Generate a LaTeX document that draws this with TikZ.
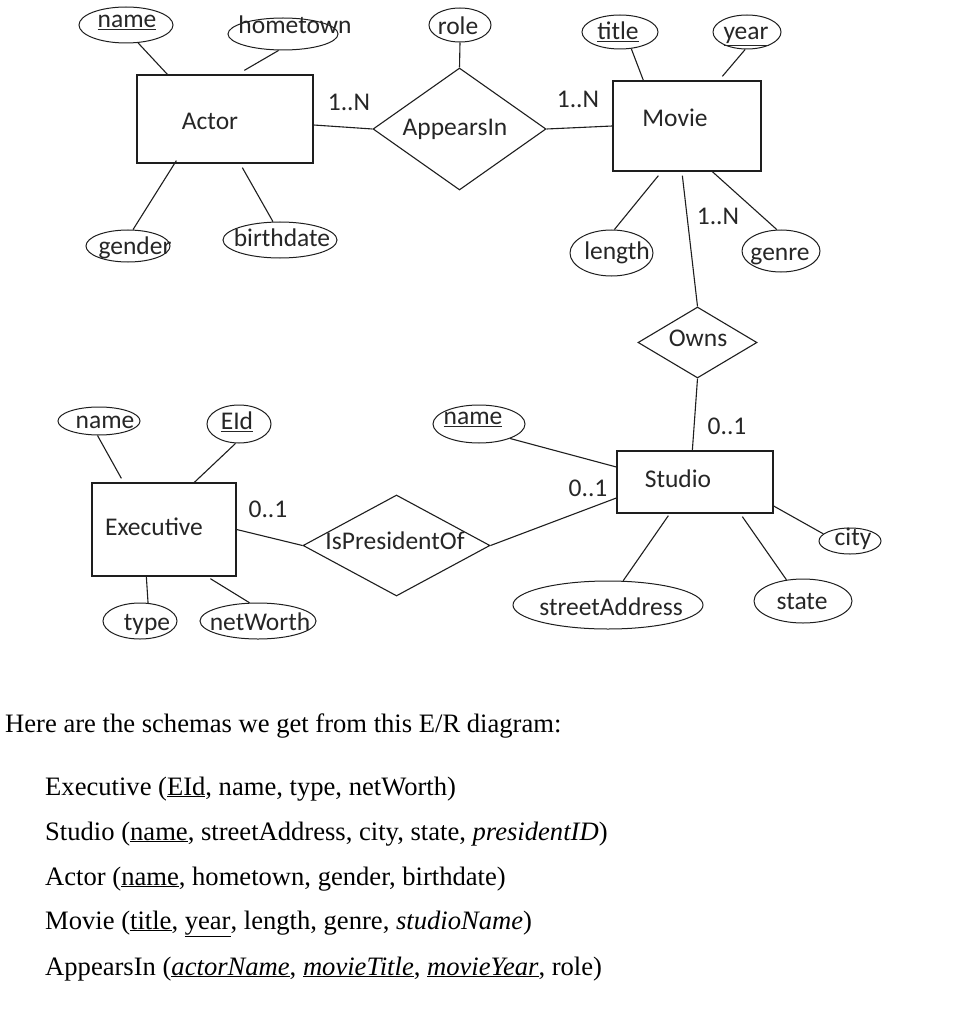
\documentclass[tikz,border=0pt]{standalone}
\usepackage{fontspec}
\setmainfont{Liberation Serif}
\newfontfamily\diagfont{Carlito}
\usetikzlibrary{shapes.geometric}
\definecolor{txtgray}{HTML}{262626}
\definecolor{linegray}{HTML}{1E1E1E}
\begin{document}
\begin{tikzpicture}[x=1pt,y=-1pt,
  entity/.style={draw=linegray, line width=1.3pt, rectangle, inner sep=0pt},
  rel/.style={draw=linegray, line width=1.1pt, diamond, inner sep=0pt},
  attr/.style={draw=linegray, line width=1pt, ellipse, inner sep=0pt},
  lbl/.style={font=\diagfont\fontsize{25.5}{29}\selectfont, text=txtgray, inner sep=0pt, text height=0.68em, text depth=0.2em, yshift=-5pt},
  conn/.style={draw=linegray, line width=1.1pt},
  schema/.style={font=\fontsize{26.6}{30}\selectfont, anchor=base west, inner sep=0pt}]
\useasboundingbox[fill=white] (0,0) rectangle (969,1024);

% ---------- entities ----------
\node[entity, minimum width=176pt, minimum height=88pt] (actor) at (225,119) {};
\node[lbl] (actorT) at (210,122) {Actor};
\node[entity, minimum width=148pt, minimum height=90pt] (movie) at (687,126) {};
\node[lbl] (movieT) at (675,119) {Movie};
\node[entity, minimum width=156pt, minimum height=62pt] (studio) at (695,482) {};
\node[lbl] (studioT) at (678,480) {Studio};
\node[entity, minimum width=144pt, minimum height=93pt] (exec) at (164,529.5) {};
\node[lbl] (execT) at (154,528) {Executive};

% ---------- relationships ----------
\node[rel, minimum width=173pt, minimum height=122pt] (appears) at (459.5,129) {};
\node[lbl] (appearsT) at (455,128) {AppearsIn};
\node[rel, minimum width=119pt, minimum height=71pt] (owns) at (697.5,342.5) {};
\node[lbl] (ownsT) at (698,339) {Owns};
\node[rel, minimum width=187pt, minimum height=101pt] (ispres) at (396.5,545.5) {};
\node[lbl] (ispresT) at (395,542) {IsPresidentOf};

% ---------- attributes ----------
% Actor
\node[attr, minimum width=94pt, minimum height=36pt] (aname) at (126,25) {};
\node[lbl] (anameT) at (127,20) {\underline{name}};
\node[attr, minimum width=110pt, minimum height=32pt] (ahome) at (283,34) {};
\node[lbl] (ahomeT) at (295,26) {hometown};
\node[attr, minimum width=84pt, minimum height=32pt] (agender) at (128,246) {};
\node[lbl] (agenderT) at (135,247) {gender};
\node[attr, minimum width=114pt, minimum height=36pt] (abirth) at (280,240) {};
\node[lbl] (abirthT) at (282,239) {birthdate};
% AppearsIn
\node[attr, minimum width=62pt, minimum height=34pt] (role) at (460,25) {};
\node[lbl] (roleT) at (458,27) {role};
% Movie
\node[attr, minimum width=76pt, minimum height=34pt] (mtitle) at (620,32) {};
\node[lbl] (mtitleT) at (618,32) {\underline{title}};
\node[attr, minimum width=68pt, minimum height=34pt] (myear) at (747,32) {};
\node[lbl] (myearT) at (746,32) {\underline{year}};
\node[attr, minimum width=83pt, minimum height=46pt] (mlength) at (611.5,253) {};
\node[lbl] (mlengthT) at (617,252) {length};
\node[attr, minimum width=78pt, minimum height=42pt] (mgenre) at (781,251) {};
\node[lbl] (mgenreT) at (780,253) {genre};
% Studio
\node[attr, minimum width=92pt, minimum height=38pt] (sname) at (479,424) {};
\node[lbl] (snameT) at (473,417) {\underline{name}};
\node[attr, minimum width=190pt, minimum height=48pt] (saddr) at (608,605) {};
\node[lbl] (saddrT) at (611,608) {streetAddress};
\node[attr, minimum width=98pt, minimum height=44pt] (sstate) at (803,601) {};
\node[lbl] (sstateT) at (802,602) {state};
\node[attr, minimum width=62pt, minimum height=26pt] (scity) at (850,541) {};
\node[lbl] (scityT) at (853,538) {city};
% Executive
\node[attr, minimum width=82pt, minimum height=28pt] (ename) at (99,421) {};
\node[lbl] (enameT) at (105,421) {name};
\node[attr, minimum width=64pt, minimum height=38pt] (eid) at (239,424) {};
\node[lbl] (eidT) at (237,422) {\underline{EId}};
\node[attr, minimum width=74pt, minimum height=36pt] (etype) at (140,621) {};
\node[lbl] (etypeT) at (147,623) {type};
\node[attr, minimum width=116pt, minimum height=36pt] (eworth) at (258,621) {};
\node[lbl] (eworthT) at (260,623) {netWorth};

% ---------- connectors ----------
\draw[conn] (aname.-56) -- ([xshift=31pt]actor.north west);
\draw[conn] (ahome.-105) -- ([xshift=108pt,yshift=4pt]actor.north west);
\draw[conn] ([xshift=40pt,yshift=3pt]actor.south west) -- (agender.73);
\draw[conn] ([xshift=106pt,yshift=-4pt]actor.south west) -- (abirth.111);
\draw[conn] ([yshift=-6pt]actor.east) -- (appears.west);
\draw[conn] (appears.east) -- (movie.west);
\draw[conn] (role.south) -- (appears.north);
\draw[conn] (mtitle.-56) -- ([xshift=31pt]movie.north west);
\draw[conn] (myear.-96) -- ([xshift=110pt,yshift=4pt]movie.north west);
\draw[conn] ([xshift=46pt,yshift=-4pt]movie.south west) -- (mlength.83);
\draw[conn] ([xshift=100pt]movie.south west) -- (mgenre.101);
\draw[conn] ([xshift=70pt,yshift=-4pt]movie.south west) -- (owns.north);
\draw[conn] (owns.south) -- ([xshift=76pt]studio.north west);
\draw[conn] (sname.-25) -- ([yshift=15pt]studio.west);
\draw[conn] (ispres.east) -- ([yshift=-16pt]studio.west);
\draw[conn] ([xshift=52pt,yshift=-2pt]studio.south west) -- (saddr.58);
\draw[conn] ([xshift=126pt,yshift=-3pt]studio.south west) -- (sstate.128);
\draw[conn] ([yshift=-24pt]studio.east) -- (scity.165);
\draw[conn] (ename.-96) -- ([xshift=30pt,yshift=4pt]exec.north west);
\draw[conn] (eid.-100) -- ([xshift=103pt]exec.north west);
\draw[conn] ([xshift=55pt]exec.south west) -- (etype.66);
\draw[conn] ([xshift=119pt,yshift=-2pt]exec.south west) -- (eworth.115);
\draw[conn] (exec.east) -- (ispres.west);

% ---------- cardinalities ----------
\node[lbl] (c1) at (349,103) {1..N};
\node[lbl] (c2) at (578,100) {1..N};
\node[lbl] (c3) at (718,217) {1..N};
\node[lbl] (c4) at (727,427) {0..1};
\node[lbl] (c5) at (588,489) {0..1};
\node[lbl] (c6) at (268,510) {0..1};

% ---------- schema text ----------
\node[schema] (h0) at (5,732) {Here are the schemas we get from this E/R diagram:};
\node[schema] (s1) at (45,795) {Executive (\underline{EId}, name, type, netWorth)};
\node[schema] (s2) at (45,840) {Studio (\underline{name}, streetAddress, city, state, \textit{presidentID})};
\node[schema] (s3) at (45,885) {Actor (\underline{name}, hometown, gender, birthdate)};
\node[schema] (s4) at (45,929) {Movie (\underline{title}, \underline{year}, length, genre, \textit{studioName})};
\node[schema] (s5) at (45,975) {AppearsIn (\underline{\textit{actorName}}, \underline{\textit{movieTitle}}, \underline{\textit{movieYear}}, role)};
\end{tikzpicture}
\end{document}
